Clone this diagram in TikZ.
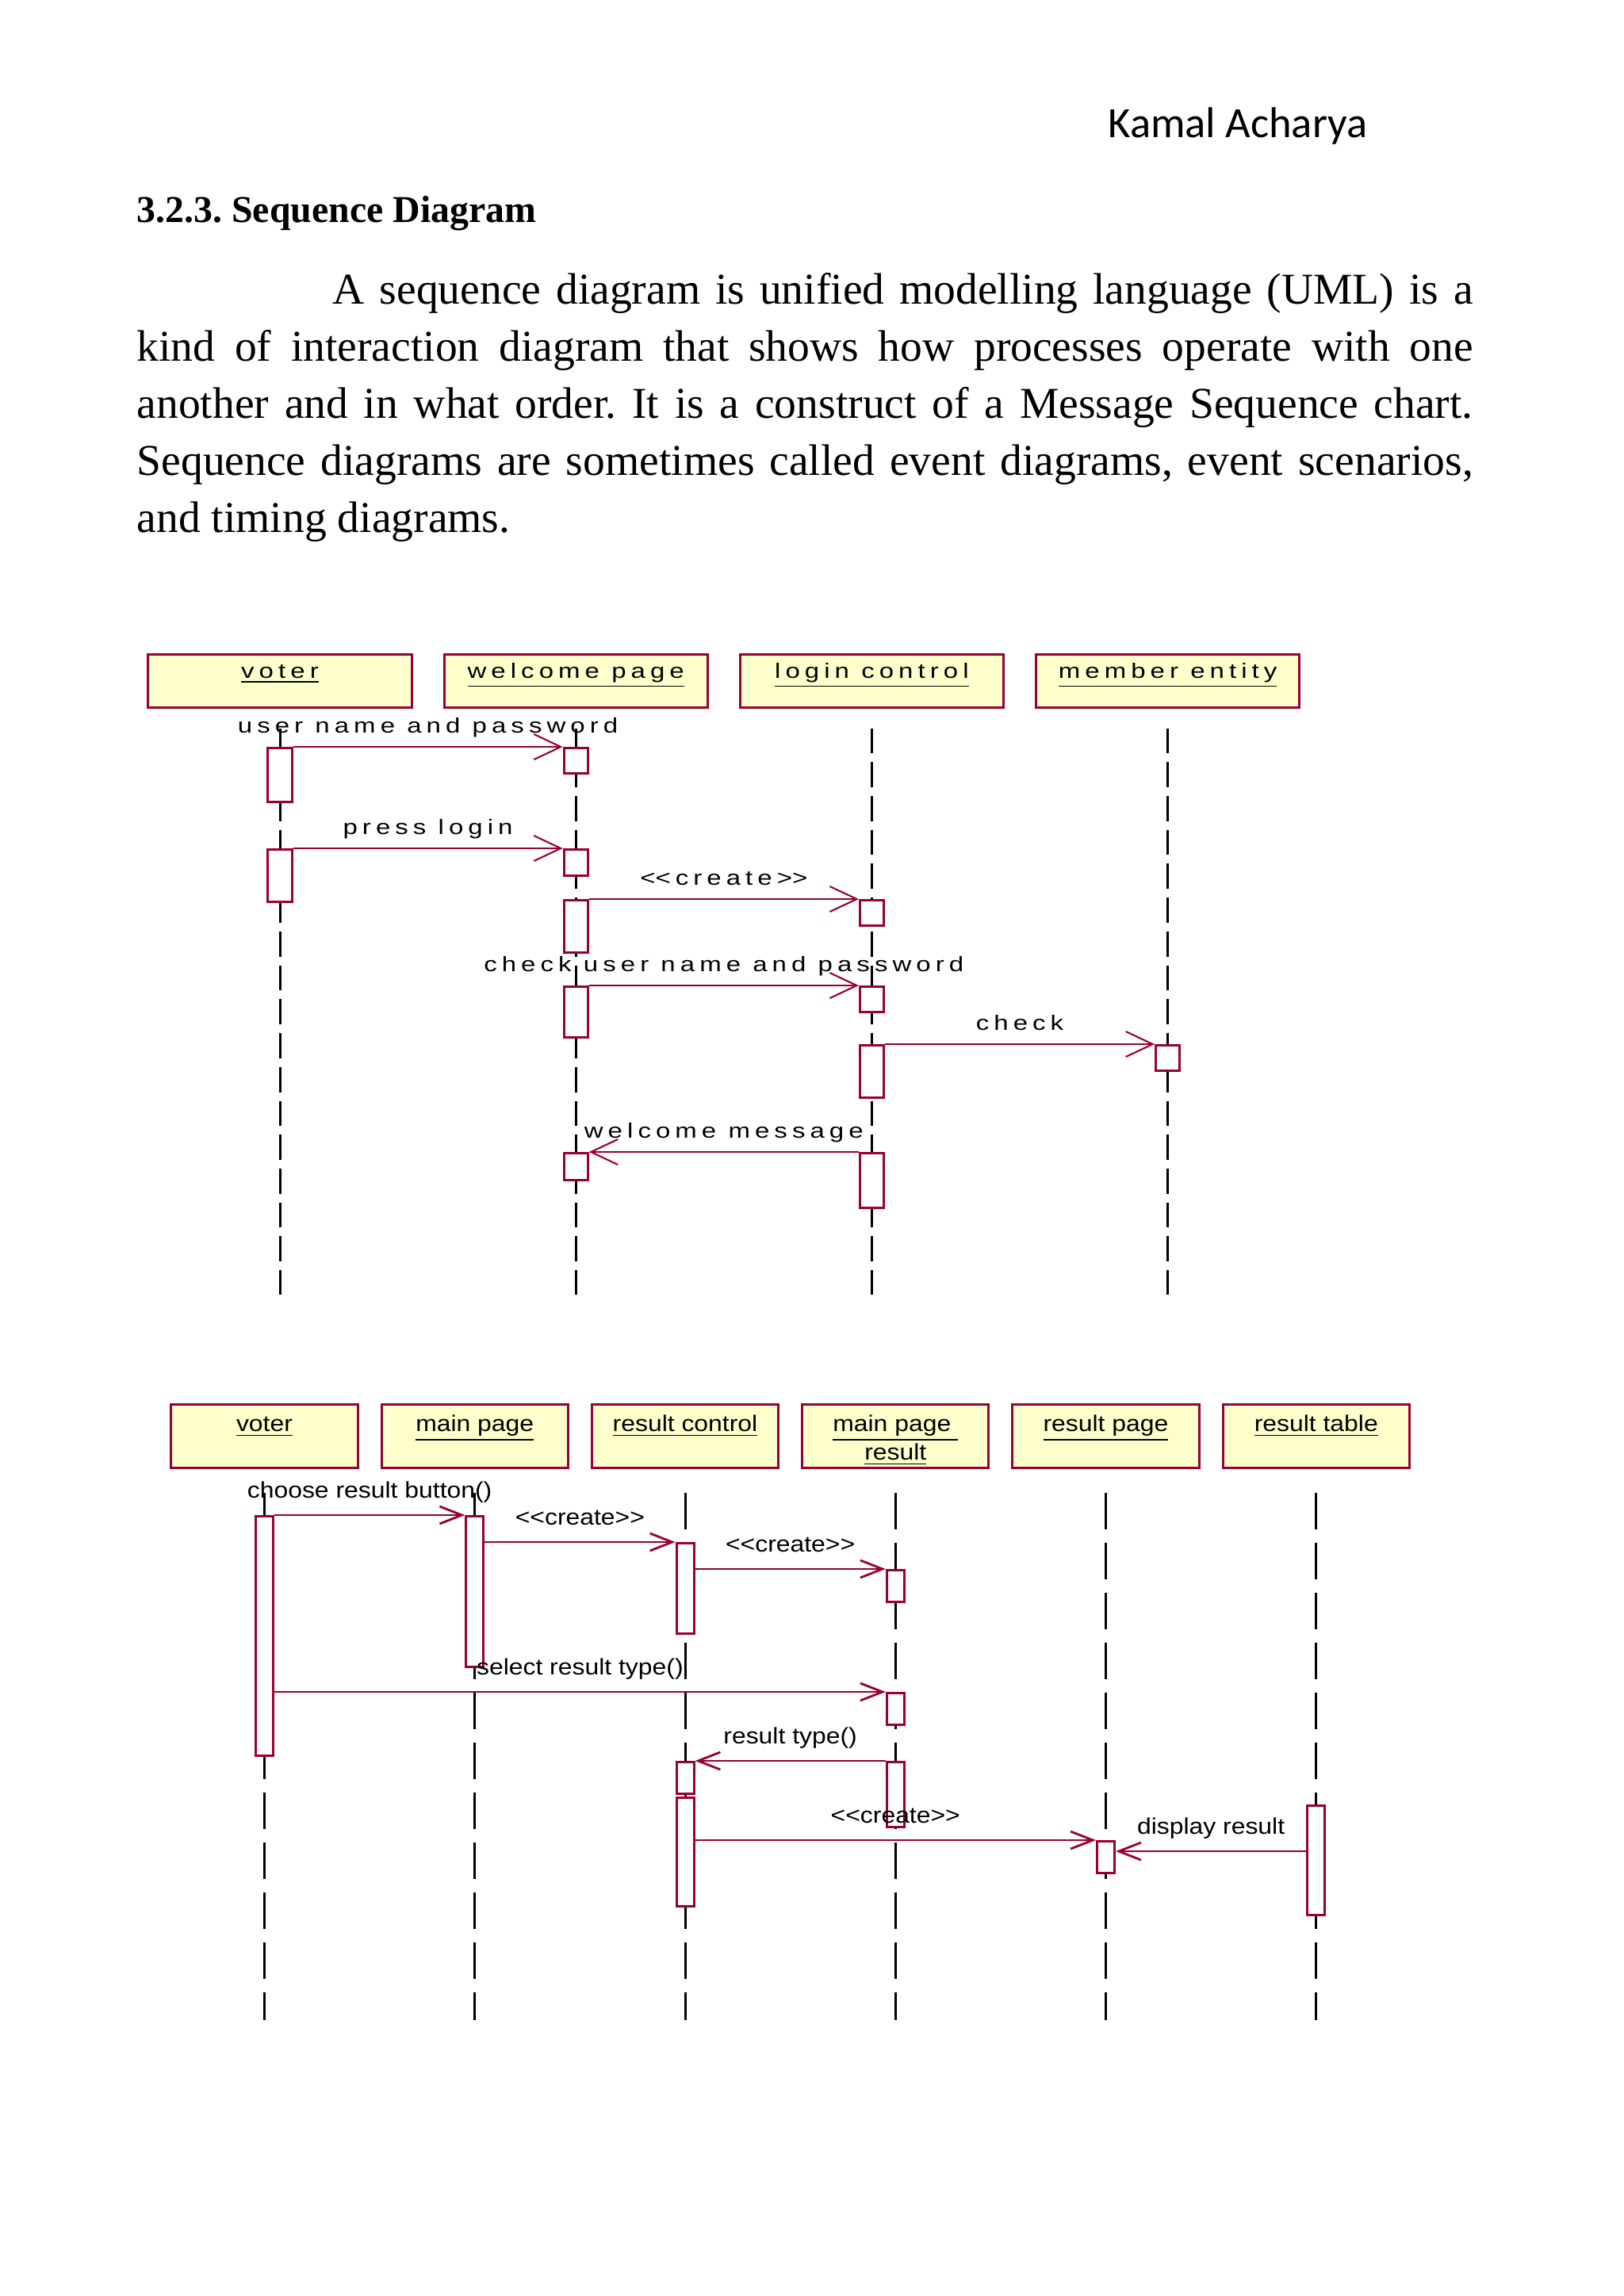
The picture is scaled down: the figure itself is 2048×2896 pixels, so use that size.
\documentclass[tikz,border=0pt]{standalone}
\usepackage{fontspec}
\setmainfont{Liberation Serif}
\newfontfamily\authorfont{Carlito}
\newfontfamily\umlfont[LetterSpace=23,FakeStretch=1.25]{Liberation Sans}
\newfontfamily\umlbfont[FakeStretch=1.12]{Liberation Sans}
\usepackage{xcolor}
\usetikzlibrary{shapes,arrows,arrows.meta,positioning}
\definecolor{umlred}{RGB}{153,0,51}
\definecolor{umlyellow}{RGB}{255,255,204}
\frenchspacing

\begin{document}
\begin{tikzpicture}[x=0.01cm, y=-0.01cm, node distance=3.73cm,
    >={Straight Barb[length=0.34cm,width=0.32cm]},
    obj/.style={rectangle, draw=umlred, fill=umlyellow, line width=0.03cm, minimum width=3.32cm, minimum height=0.66cm, inner sep=0pt, text height=0.18cm, text depth=0.26cm, font=\umlfont\fontsize{7.5}{8.5}\selectfont},
    bobj/.style={obj, minimum width=2.35cm, minimum height=0.8cm, text height=0.2cm, text depth=0.32cm, font=\umlbfont\fontsize{8.1}{9.4}\selectfont},
    life/.style={line width=0.03cm, dash pattern=on 0.317cm off 0.11cm},
    blife/.style={life, dash pattern=on 0.46cm off 0.17cm},
    bar/.style={rectangle, draw=umlred, fill=white, line width=0.03cm, minimum width=0.3cm, inner sep=0pt, anchor=north},
    bbar/.style={bar, minimum width=0.22cm},
    msg/.style={->, draw=umlred, line width=0.6pt},
    bmsg/.style={msg, >={Straight Barb[length=0.28cm,width=0.22cm]}, line width=0.8pt},
    tl/.style={above=0.11cm, inner sep=0pt, text depth=0.05cm, font=\umlfont\fontsize{7.5}{8.5}\selectfont},
    bl/.style={above=0.14cm, inner sep=0pt, text depth=0.06cm, font=\umlbfont\fontsize{8.1}{9.4}\selectfont}]
    \useasboundingbox (0,0) rectangle (2048,2896);

    % page text
    \node (author) [anchor=base west, inner sep=0pt, font=\authorfont\fontsize{15.5}{18}\selectfont] at (1397,173) {Kamal Acharya};
    \node (head) [anchor=base west, inner sep=0pt, font=\bfseries\fontsize{13.6}{16}\selectfont] at (172,280) {3.2.3. Sequence Diagram};
    \node (intro) [anchor=base west, inner sep=0pt, text width=16.84cm, align=justify, font=\fontsize{15.8}{20.54}\selectfont] at (172,383)
        {\hspace*{2.47cm}A sequence diagram is unified modelling language (UML) is a\linebreak
         kind of interaction diagram that shows how processes operate with one\linebreak
         another and in what order. It is a construct of a Message Sequence chart.\linebreak
         Sequence diagrams are sometimes called event diagrams, event scenarios,\linebreak
         and timing diagrams.};

    % login sequence
    \node (voter) [obj] at (353,859) {\underline{voter}};
    \node (welcome) [obj, right of=voter] {\underline{welcome page}};
    \node (login) [obj, right of=welcome] {\underline{login control}};
    \node (member) [obj, right of=login] {\underline{member entity}};

    \draw [life] ([yshift=-0.25cm]voter.south) -- ++(0,714);
    \draw [life] ([yshift=-0.25cm]welcome.south) -- ++(0,714);
    \draw [life] ([yshift=-0.25cm]login.south) -- ++(0,714);
    \draw [life] ([yshift=-0.25cm]member.south) -- ++(0,714);

    \node (v1) [bar, minimum height=0.68cm] at (voter |- 0,942) {};
    \node (w1) [bar, minimum height=0.32cm] at (welcome |- 0,942) {};
    \node (v2) [bar, minimum height=0.66cm] at (voter |- 0,1070) {};
    \node (w2) [bar, minimum height=0.33cm] at (welcome |- 0,1070) {};
    \node (w3) [bar, minimum height=0.66cm] at (welcome |- 0,1134) {};
    \node (l1) [bar, minimum height=0.32cm] at (login |- 0,1134) {};
    \node (w4) [bar, minimum height=0.64cm] at (welcome |- 0,1243) {};
    \node (l2) [bar, minimum height=0.32cm] at (login |- 0,1243) {};
    \node (l3) [bar, minimum height=0.66cm] at (login |- 0,1317) {};
    \node (m1) [bar, minimum height=0.32cm] at (member |- 0,1317) {};
    \node (w5) [bar, minimum height=0.34cm] at (welcome |- 0,1453) {};
    \node (l4) [bar, minimum height=0.69cm] at (login |- 0,1453) {};

    \draw [msg] (v1.north east) -- node[tl] (t1) {user name and password} (w1.north west);
    \draw [msg] (v2.north east) -- node[tl] (t2) {press login} (w2.north west);
    \draw [msg] (w3.north east) -- node[tl] (t3) {<\kern0pt<create>\kern0pt>} (l1.north west);
    \draw [msg] (w4.north east) -- node[tl] (t4) {check user name and password} (l2.north west);
    \draw [msg] (l3.north east) -- node[tl] (t5) {check} (m1.north west);
    \draw [msg] (l4.north west) -- node[tl] (t6) {welcome message} (w5.north east);

    % result sequence
    \node (bvoter) [bobj] at (333.5,1811) {\underline{voter}};
    \node (mainpage) [bobj, right of=bvoter, node distance=2.651cm] {\underline{main page}};
    \node (resctrl) [bobj, right of=mainpage, node distance=2.651cm] {\underline{result control}};
    \node (mpresult) [bobj, right of=resctrl, node distance=2.651cm] {\begin{tabular}[t]{@{}c@{}}\underline{main page\ }\\\underline{result}\end{tabular}};
    \node (respage) [bobj, right of=mpresult, node distance=2.651cm] {\underline{result page}};
    \node (restable) [bobj, right of=respage, node distance=2.651cm] {\underline{result table}};

    \draw [blife] ([yshift=-0.3cm]bvoter.south) -- ++(0,665);
    \draw [blife] ([yshift=-0.3cm]mainpage.south) -- ++(0,665);
    \draw [blife] ([yshift=-0.3cm]resctrl.south) -- ++(0,665);
    \draw [blife] ([yshift=-0.3cm]mpresult.south) -- ++(0,665);
    \draw [blife] ([yshift=-0.3cm]respage.south) -- ++(0,665);
    \draw [blife] ([yshift=-0.3cm]restable.south) -- ++(0,665);

    \node (bv) [bbar, minimum height=3.02cm] at (bvoter |- 0,1911) {};
    \node (bm) [bbar, minimum height=1.90cm] at (mainpage |- 0,1911) {};
    \node (rc1) [bbar, minimum height=1.14cm] at (resctrl |- 0,1945) {};
    \node (mr1) [bbar, minimum height=0.40cm] at (mpresult |- 0,1979) {};
    \node (mr2) [bbar, minimum height=0.40cm] at (mpresult |- 0,2134) {};
    \node (mr3) [bbar, minimum height=0.82cm] at (mpresult |- 0,2221) {};
    \node (rc2) [bbar, minimum height=0.40cm] at (resctrl |- 0,2221) {};
    \node (rc3) [bbar, minimum height=1.37cm] at (resctrl |- 0,2266) {};
    \node (rp1) [bbar, minimum height=0.40cm] at (respage |- 0,2321) {};
    \node (rt1) [bbar, minimum height=1.38cm] at (restable |- 0,2276) {};
    \coordinate (dr) at ([yshift=-0.14cm]rp1.north east);

    \draw [bmsg] (bv.north east) -- node[bl] (b1) {choose result button()} (bm.north west);
    \draw [bmsg] (bm.east |- rc1.north) -- node[bl] (b2) {<\kern0pt<create>\kern0pt>} (rc1.north west);
    \draw [bmsg] (rc1.east |- mr1.north) -- node[bl] (b3) {<\kern0pt<create>\kern0pt>} (mr1.north west);
    \draw [bmsg] (bv.east |- mr2.north) -- node[bl] (b4) {select result type()} (mr2.north west);
    \draw [bmsg] (mr3.north west) -- node[bl] (b5) {result type()} (rc2.north east);
    \draw [bmsg] (rc3.east |- rp1.north) -- node[bl] (b6) {<\kern0pt<create>\kern0pt>} (rp1.north west);
    \draw [bmsg] (rt1.west |- dr) -- node[bl] (b7) {display result} (dr);
\end{tikzpicture}
\end{document}
